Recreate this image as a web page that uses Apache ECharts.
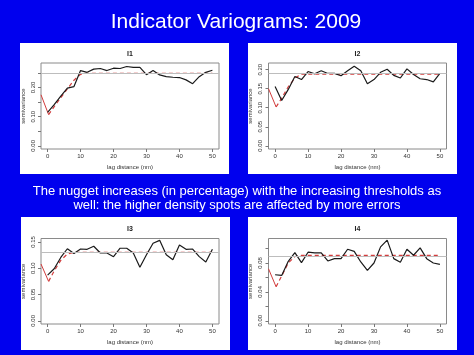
<!DOCTYPE html>
<html>
<head>
<meta charset="utf-8">
<script src="https://cdn.jsdelivr.net/npm/echarts@6/dist/echarts.min.js"></script>
<style>
html,body{margin:0;padding:0;background:#0000ee;}
#c{width:474px;height:355px;}
</style>
</head>
<body>
<div id="c"></div>
<script>
// ---- data ----
var lags = [0,2,4,6,8,10,12,14,16,18,20,22,24,26,28,30,32,34,36,38,40,42,44,46,48,50];

var gammaI1 = [0.115,0.141,0.170,0.198,0.203,0.258,0.252,0.263,0.265,0.258,0.266,0.265,0.272,0.269,0.269,0.244,0.258,0.243,0.237,0.235,0.234,0.226,0.213,0.237,0.252,0.259];
var gammaI2 = [0.156,0.119,0.148,0.182,0.174,0.195,0.189,0.197,0.190,0.190,0.184,0.197,0.209,0.197,0.163,0.174,0.193,0.201,0.185,0.178,0.202,0.187,0.176,0.174,0.168,0.190];
var gammaI3 = [0.087,0.099,0.1205,0.137,0.128,0.1365,0.136,0.1417,0.129,0.129,0.122,0.138,0.138,0.129,0.102,0.1256,0.1474,0.153,0.1256,0.116,0.144,0.136,0.1365,0.122,0.112,0.136];
var gammaI4 = [0.0637,0.0628,0.0823,0.0944,0.0805,0.0949,0.094,0.094,0.0828,0.086,0.086,0.099,0.096,0.0814,0.0698,0.080,0.1023,0.1116,0.086,0.081,0.099,0.0907,0.1009,0.086,0.080,0.078];

// fitted model (red): short solid part before lag 0, dashed part after
var modelLeadLag = [-2, 0.3];
var modelLeadI1 = [0.175, 0.107];
var modelLeadI2 = [0.150, 0.102];
var modelLeadI3 = [0.108, 0.075];
var modelLeadI4 = [0.072, 0.047];

var modelLagI1 = [0.3,3,6,8,10,11,50];
var modelI1 = [0.107,0.150,0.195,0.225,0.245,0.248,0.248];
var modelLagI2 = [0.3,2,4,6,8,50];
var modelI2 = [0.102,0.125,0.155,0.178,0.188,0.188];
var modelLagI3 = [0.3,2,4,6,8,50];
var modelI3 = [0.075,0.095,0.115,0.127,0.130,0.130];
var modelLagI4 = [0.3,2,4,6,8,50];
var modelI4 = [0.047,0.062,0.080,0.089,0.0905,0.0905];

// sill reference (gray)
var sillI1 = 0.251, sillI2 = 0.190, sillI3 = 0.133, sillI4 = 0.0907;

// axes
var xTicks = [0,10,20,30,40,50];
var yTicksI1 = [0,0.05,0.10,0.15,0.20,0.25];
var yLabelsI1 = [0,0.10,0.20];
var yTicksI2 = [0,0.05,0.10,0.15,0.20];
var yLabelsI2 = [0,0.05,0.10,0.15,0.20];
var yTicksI3 = [0,0.05,0.10,0.15];
var yLabelsI3 = [0,0.05,0.10,0.15];
var yTicksI4 = [0,0.02,0.04,0.06,0.08,0.10];
var yLabelsI4 = [0,0.04,0.08];
var yRangeI1 = [-0.0109, 0.2839];
var yRangeI2 = [-0.0084, 0.2174];
var yRangeI3 = [-0.0060, 0.1565];
var yRangeI4 = [-0.0045, 0.1139];

var panelTitles = ['I1','I2','I3','I4'];
var mainTitle = 'Indicator Variograms: 2009';
var noteLine1 = 'The nugget increases (in percentage) with the increasing thresholds as';
var noteLine2 = 'well: the higher density spots are affected by more errors';

// ---- layout ----
var panels = [
  {gamma: gammaI1, lead: modelLeadI1, mLag: modelLagI1, m: modelI1, sill: sillI1, yt: yTicksI1, yl: yLabelsI1, yr: yRangeI1,
   box: [20,43,209,131], grid: {left: 41, top: 63, width: 178, height: 86}},
  {gamma: gammaI2, lead: modelLeadI2, mLag: modelLagI2, m: modelI2, sill: sillI2, yt: yTicksI2, yl: yLabelsI2, yr: yRangeI2,
   box: [248,43,209,131], grid: {left: 268.5, top: 63, width: 178, height: 86}},
  {gamma: gammaI3, lead: modelLeadI3, mLag: modelLagI3, m: modelI3, sill: sillI3, yt: yTicksI3, yl: yLabelsI3, yr: yRangeI3,
   box: [21,217,209,133], grid: {left: 41, top: 238.5, width: 178, height: 85.5}},
  {gamma: gammaI4, lead: modelLeadI4, mLag: modelLagI4, m: modelI4, sill: sillI4, yt: yTicksI4, yl: yLabelsI4, yr: yRangeI4,
   box: [248,217,209,133], grid: {left: 268.5, top: 238.5, width: 178, height: 85.5}}
];

var FONT = 'Liberation Sans, Arial, sans-serif';
var grids = [], xAxes = [], yAxes = [], series = [], graphics = [];

function pairs(xs, ys){ return xs.map(function(x,i){ return [x, ys[i]]; }); }

panels.forEach(function(p, i){
  var g = p.grid;
  grids.push({left: g.left, top: g.top, width: g.width, height: g.height,
    show: true, borderColor: '#8a8a8a', borderWidth: 1, backgroundColor: 'transparent'});
  xAxes.push({type: 'value', gridIndex: i, min: -2, max: 52,
    axisLine: {show: false, onZero: false},
    axisTick: {show: true, length: 3, customValues: xTicks, lineStyle: {color: '#777'}},
    axisLabel: {customValues: xTicks, fontSize: 6, color: '#333', margin: 4, fontFamily: FONT},
    splitLine: {show: false},
    name: 'lag distance (nm)', nameLocation: 'middle', nameGap: 15,
    nameTextStyle: {fontSize: 6, color: '#333', fontFamily: FONT}});
  yAxes.push({type: 'value', gridIndex: i, min: p.yr[0], max: p.yr[1],
    axisLine: {show: false, onZero: false},
    axisTick: {show: true, length: 3, customValues: p.yt, lineStyle: {color: '#777'}},
    axisLabel: {customValues: p.yl, fontSize: 6, color: '#333', margin: 5, rotate: 90, fontFamily: FONT,
      formatter: function(v){ return (+v).toFixed(2); }},
    splitLine: {show: false},
    name: 'semivariance', nameLocation: 'middle', nameGap: 15, nameRotate: 90,
    nameTextStyle: {fontSize: 6, color: '#333', fontFamily: FONT}});
  // sill
  series.push({type: 'line', xAxisIndex: i, yAxisIndex: i, data: [], silent: true,
    markLine: {symbol: 'none', silent: true, label: {show: false},
      lineStyle: {color: '#bdbdbd', type: 'solid', width: 1}, data: [{yAxis: p.sill}]}});
  // model lead (solid red)
  series.push({type: 'line', xAxisIndex: i, yAxisIndex: i, data: pairs(modelLeadLag, p.lead),
    showSymbol: false, symbol: 'none', lineStyle: {color: '#d23c3c', width: 1}, z: 3});
  // model dashed
  series.push({type: 'line', xAxisIndex: i, yAxisIndex: i, data: pairs(p.mLag, p.m),
    showSymbol: false, symbol: 'none', lineStyle: {color: '#d23c3c', width: 1.2, type: [4,3]}, z: 3});
  // empirical (black)
  series.push({type: 'line', xAxisIndex: i, yAxisIndex: i, data: pairs(lags, p.gamma),
    showSymbol: false, symbol: 'none', lineStyle: {color: '#1a1a1a', width: 1.2}, z: 4});

  graphics.push({type: 'rect', shape: {x: p.box[0], y: p.box[1], width: p.box[2], height: p.box[3]},
    style: {fill: '#ffffff'}, z: -10, silent: true});
  graphics.push({type: 'text', x: g.left + g.width/2, y: g.top - 9, silent: true,
    style: {text: panelTitles[i], font: 'bold 7px ' + FONT, fill: '#222', align: 'center', verticalAlign: 'middle'}});
});

graphics.push({type: 'text', x: 236, y: 22, silent: true,
  style: {text: mainTitle, font: '21px ' + FONT, fill: '#ffffff', align: 'center', verticalAlign: 'middle'}});
graphics.push({type: 'text', x: 237, y: 191, silent: true,
  style: {text: noteLine1, font: '13px ' + FONT, fill: '#ffffff', align: 'center', verticalAlign: 'middle'}});
graphics.push({type: 'text', x: 237, y: 205.5, silent: true,
  style: {text: noteLine2, font: '13px ' + FONT, fill: '#ffffff', align: 'center', verticalAlign: 'middle'}});

var chart = echarts.init(document.getElementById('c'), null, {renderer: 'canvas'});
chart.setOption({
  backgroundColor: '#0000ee',
  animation: false,
  grid: grids, xAxis: xAxes, yAxis: yAxes, series: series,
  graphic: {elements: graphics}
});
</script>
</body>
</html>
